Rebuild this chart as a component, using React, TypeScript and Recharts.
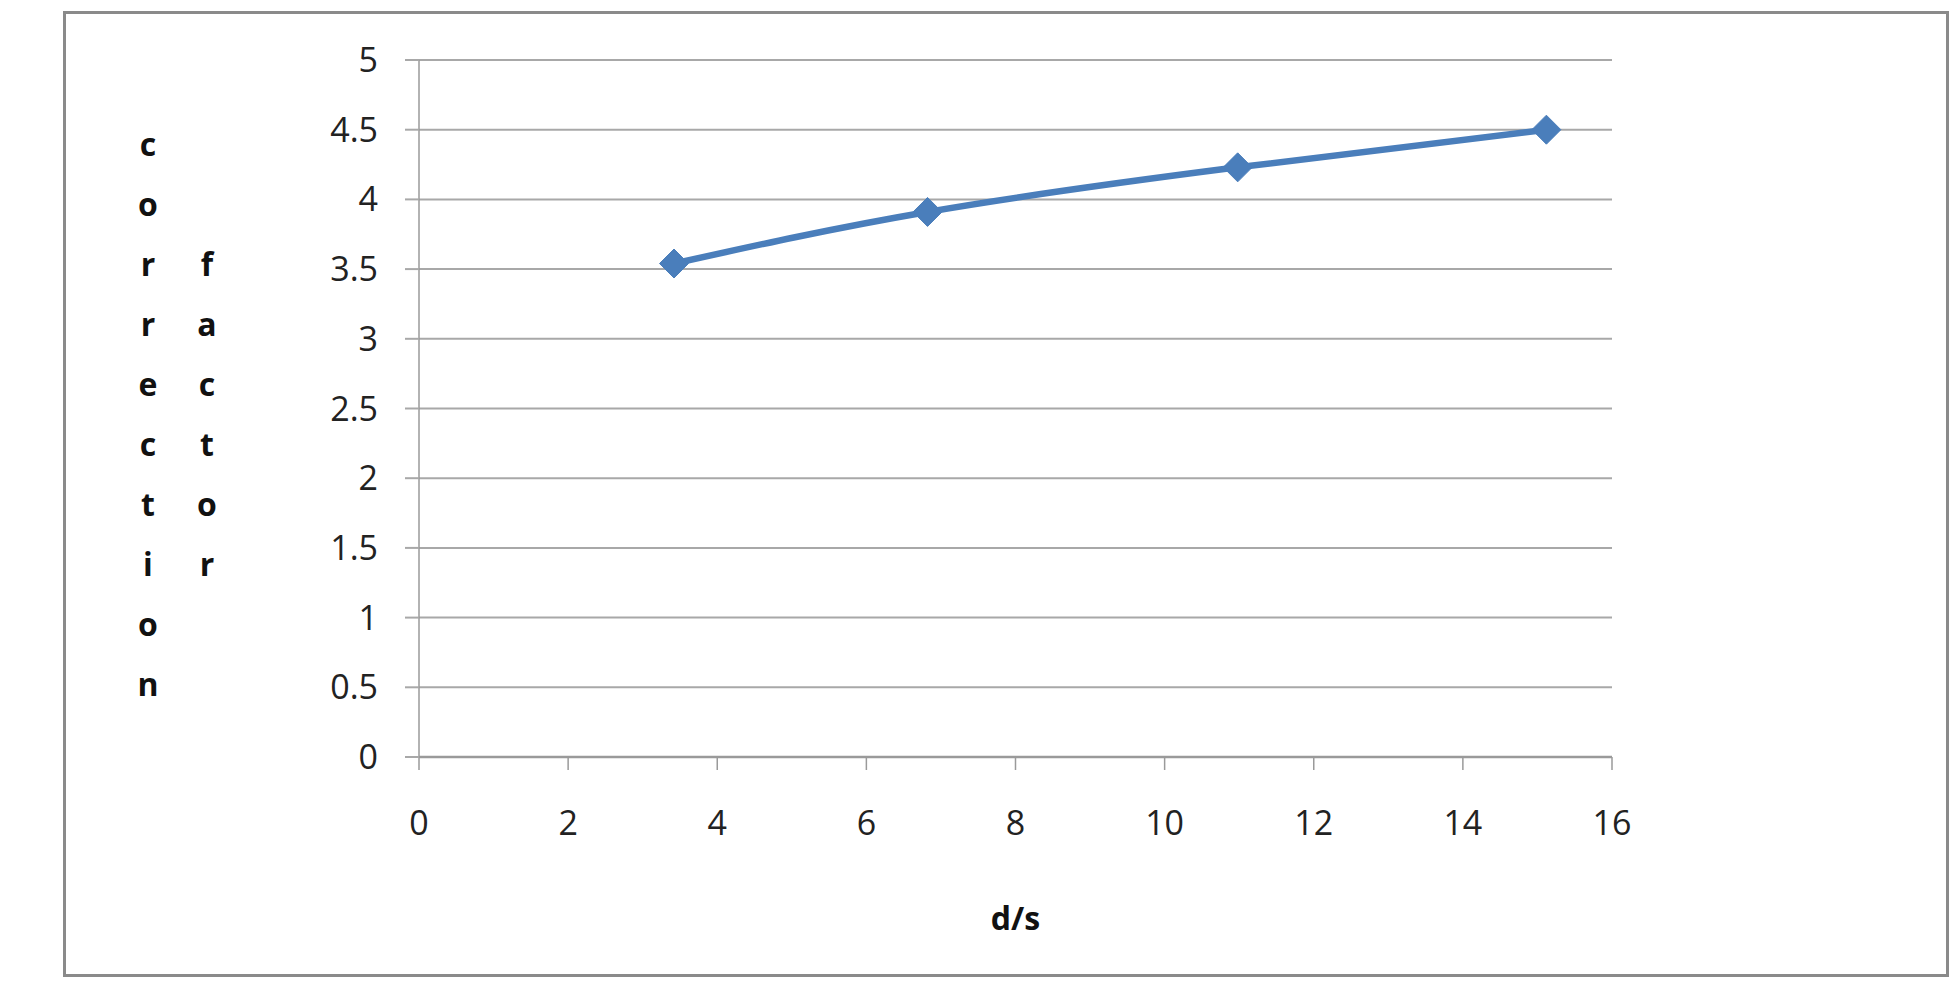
import { LineChart, Line, XAxis, YAxis, CartesianGrid } from 'recharts'

// d/s on the x axis, correction factor on the y axis
const dOverS = [3.42, 6.82, 10.98, 15.12]
const correctionFactor = [3.54, 3.91, 4.23, 4.5]
const xTicks = [0, 2, 4, 6, 8, 10, 12, 14, 16]
const yTicks = [0, 0.5, 1, 1.5, 2, 2.5, 3, 3.5, 4, 4.5, 5]
const yTitleWords = ['correction', 'factor']
const xTitle = 'd/s'

const data = dOverS.map((x, i) => ({ x, y: correctionFactor[i] }))

const FONT = '"Open Sans", sans-serif'
const GRID = '#a8a8a8'
const BLUE = '#4A7EBB'

// Excel-style diamond marker
const Diamond = ({ cx, cy }: any) => {
  if (cx == null || cy == null) return null
  const r = 14.5
  return (
    <polygon
      points={`${cx},${cy - r} ${cx + r},${cy} ${cx},${cy + r} ${cx - r},${cy}`}
      fill={BLUE}
      stroke={BLUE}
      strokeWidth={1}
    />
  )
}

// "stacked" axis title: each word is a column of letters, centred vertically
const StackedTitle = ({ viewBox }: any) => {
  if (!viewBox) return null
  const mid = viewBox.y + viewBox.height / 2 + 17
  const cols = [viewBox.x + 148, viewBox.x + 207]
  const rowGap = 60
  return (
    <g>
      {yTitleWords.map((word, c) =>
        word.split('').map((ch, i) => (
          <text
            key={`${c}-${i}`}
            x={cols[c]}
            y={mid + (i - (word.length - 1) / 2) * rowGap}
            textAnchor="middle"
            fill="#111"
            fontFamily={FONT}
            fontSize={32}
            fontWeight={700}
          >
            {ch}
          </text>
        ))
      )}
    </g>
  )
}

export default function App() {
  return (
    <div
      style={{
        position: 'absolute',
        left: 0,
        top: 0,
        width: 1951,
        height: 983,
        background: '#fff',
        fontFamily: FONT,
      }}
    >
      <div
        style={{
          position: 'absolute',
          left: 63,
          top: 11,
          width: 1886,
          height: 966,
          border: '3px solid #8a8a8a',
          boxSizing: 'border-box',
        }}
      />
      <div style={{ position: 'absolute', left: 0, top: 0 }}>
        <LineChart
          width={1951}
          height={983}
          data={data}
          margin={{ top: 60, right: 339, bottom: 0, left: 0 }}
        >
          <CartesianGrid vertical={false} stroke={GRID} strokeWidth={2} />
          <XAxis
            dataKey="x"
            type="number"
            domain={[0, 16]}
            ticks={xTicks}
            interval={0}
            height={226}
            tickSize={13}
            tickMargin={41}
            axisLine={{ stroke: '#9a9a9a', strokeWidth: 2.5 }}
            tickLine={{ stroke: '#9a9a9a', strokeWidth: 1.5 }}
            tick={{ fill: '#222', fontSize: 34, fontFamily: FONT }}
            label={{
              value: xTitle,
              position: 'insideBottom',
              offset: 53,
              fill: '#111',
              fontSize: 32,
              fontWeight: 700,
              fontFamily: FONT,
            }}
          />
          <YAxis
            type="number"
            domain={[0, 5]}
            ticks={yTicks}
            interval={0}
            width={419}
            tickSize={14}
            tickMargin={27}
            axisLine={{ stroke: '#9a9a9a', strokeWidth: 1.5 }}
            tickLine={{ stroke: GRID, strokeWidth: 2 }}
            tick={{ fill: '#222', fontSize: 34, fontFamily: FONT }}
            label={{ content: (p: any) => <StackedTitle {...p} /> }}
          />
          <Line
            type="natural"
            dataKey="y"
            stroke={BLUE}
            strokeWidth={6.5}
            dot={<Diamond />}
            activeDot={false}
            isAnimationActive={false}
          />
        </LineChart>
      </div>
    </div>
  )
}
